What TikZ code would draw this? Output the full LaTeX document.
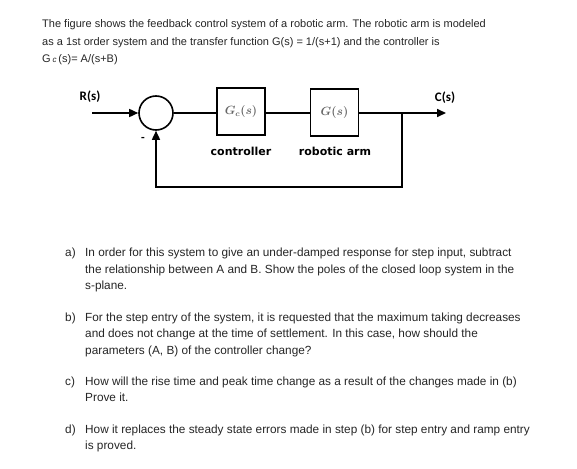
\documentclass[tikz,border=0pt]{standalone}
\usepackage{amsmath}
\usepackage{fontspec}
\setmainfont{Liberation Sans}
\newfontfamily\lblfont{DejaVu Sans}
\newfontfamily\calfont{Carlito}
\usetikzlibrary{arrows.meta,calc}
\begin{document}
\begin{tikzpicture}[x=1pt,y=1pt,
  txt/.style={anchor=mid west,inner sep=0pt,font=\fontsize{11}{13}\selectfont,text=black!85},
  qtxt/.style={anchor=mid west,inner sep=0pt,font=\fontsize{11.8}{14}\selectfont,text=black!85},
  blk/.style={draw,line width=1.6pt,minimum width=48pt,minimum height=47pt,inner sep=0pt},
  wire/.style={line width=1.6pt},
  arr/.style={wire,-{Triangle[length=9pt,width=8pt]}},
  sig/.style={font=\calfont\bfseries\fontsize{13}{15}\selectfont,inner sep=0pt},
  blklabel/.style={font=\lblfont\bfseries\fontsize{11}{13}\selectfont,inner sep=0pt},
  inbox/.style={font=\fontsize{11.5}{13}\selectfont,text=black!60,inner sep=0pt}]
\useasboundingbox (0,0) rectangle (577,-468);
\fill[white] (0,0) rectangle (577,-468);
% header
\node[txt] (h1) at (42,-25) {The figure shows the feedback control system of a robotic arm. The robotic arm is modeled};
\node[txt] (h2) at (42,-42.5) {as a 1st order system and the transfer function G(s) = 1/(s+1) and the controller is};
\node[txt] (h3) at (42,-60) {G\,{\itshape\fontsize{8}{9}\selectfont c}\,(s)= A/(s+B)};
% diagram
\node[draw,circle,line width=1.6pt,minimum size=34pt,inner sep=0pt] (sum) at (156,-113) {};
\node[blk] (gc) at (241,-111.5) {};
\node[inbox] (gct) at (gc) {$\boldsymbol{G_c(s)}$};
\node[blk] (g) at (334.5,-112.5) {};
\node[inbox] (gt) at (g) {$\boldsymbol{G(s)}$};
\coordinate (in) at (92,-113);
\coordinate (out) at (446,-113);
\coordinate (br) at (402,-113);
\coordinate (fbr) at (402,-187);
\coordinate (fbl) at (156,-187);
\draw[arr] (in) -- (sum.west);
\draw[wire] (sum.east) -- (sum.east -| gc.west);
\draw[wire] (gc.east |- sum) -- (g.west |- sum);
\draw[arr] (g.east |- sum) -- (out);
\draw[arr] (br) -- (fbr) -- (fbl) -- (sum.south);
\node[sig] (R) at (90,-97) {R(s)};
\node[sig] (C) at (445,-98) {C(s)};
\node[inner sep=0pt,font=\calfont\bfseries\fontsize{12}{14}\selectfont] (minus) at (143,-139) {-};
\node[blklabel] (l1) at (241,-151) {controller};
\node[blklabel] (l2) at (335,-151) {robotic arm};
% questions
\node[qtxt] (qa) at (65,-254) {a)};
\node[qtxt] (a1) at (85,-254) {In order for this system to give an under-damped response for step input, subtract};
\node[qtxt] (a2) at (85,-270.5) {the relationship between A and B. Show the poles of the closed loop system in the};
\node[qtxt] (a3) at (85,-287) {s-plane.};
\node[qtxt] (qb) at (65,-319) {b)};
\node[qtxt] (b1) at (85,-319) {For the step entry of the system, it is requested that the maximum taking decreases};
\node[qtxt] (b2) at (85,-335) {and does not change at the time of settlement. In this case, how should the};
\node[qtxt] (b3) at (85,-351.5) {parameters (A, B) of the controller change?};
\node[qtxt] (qc) at (65,-383) {c)};
\node[qtxt] (c1) at (85,-383) {How will the rise time and peak time change as a result of the changes made in (b)};
\node[qtxt] (c2) at (85,-399) {Prove it.};
\node[qtxt] (qd) at (65,-431) {d)};
\node[qtxt] (d1) at (85,-431) {How it replaces the steady state errors made in step (b) for step entry and ramp entry};
\node[qtxt] (d2) at (85,-447) {is proved.};
\end{tikzpicture}
\end{document}
